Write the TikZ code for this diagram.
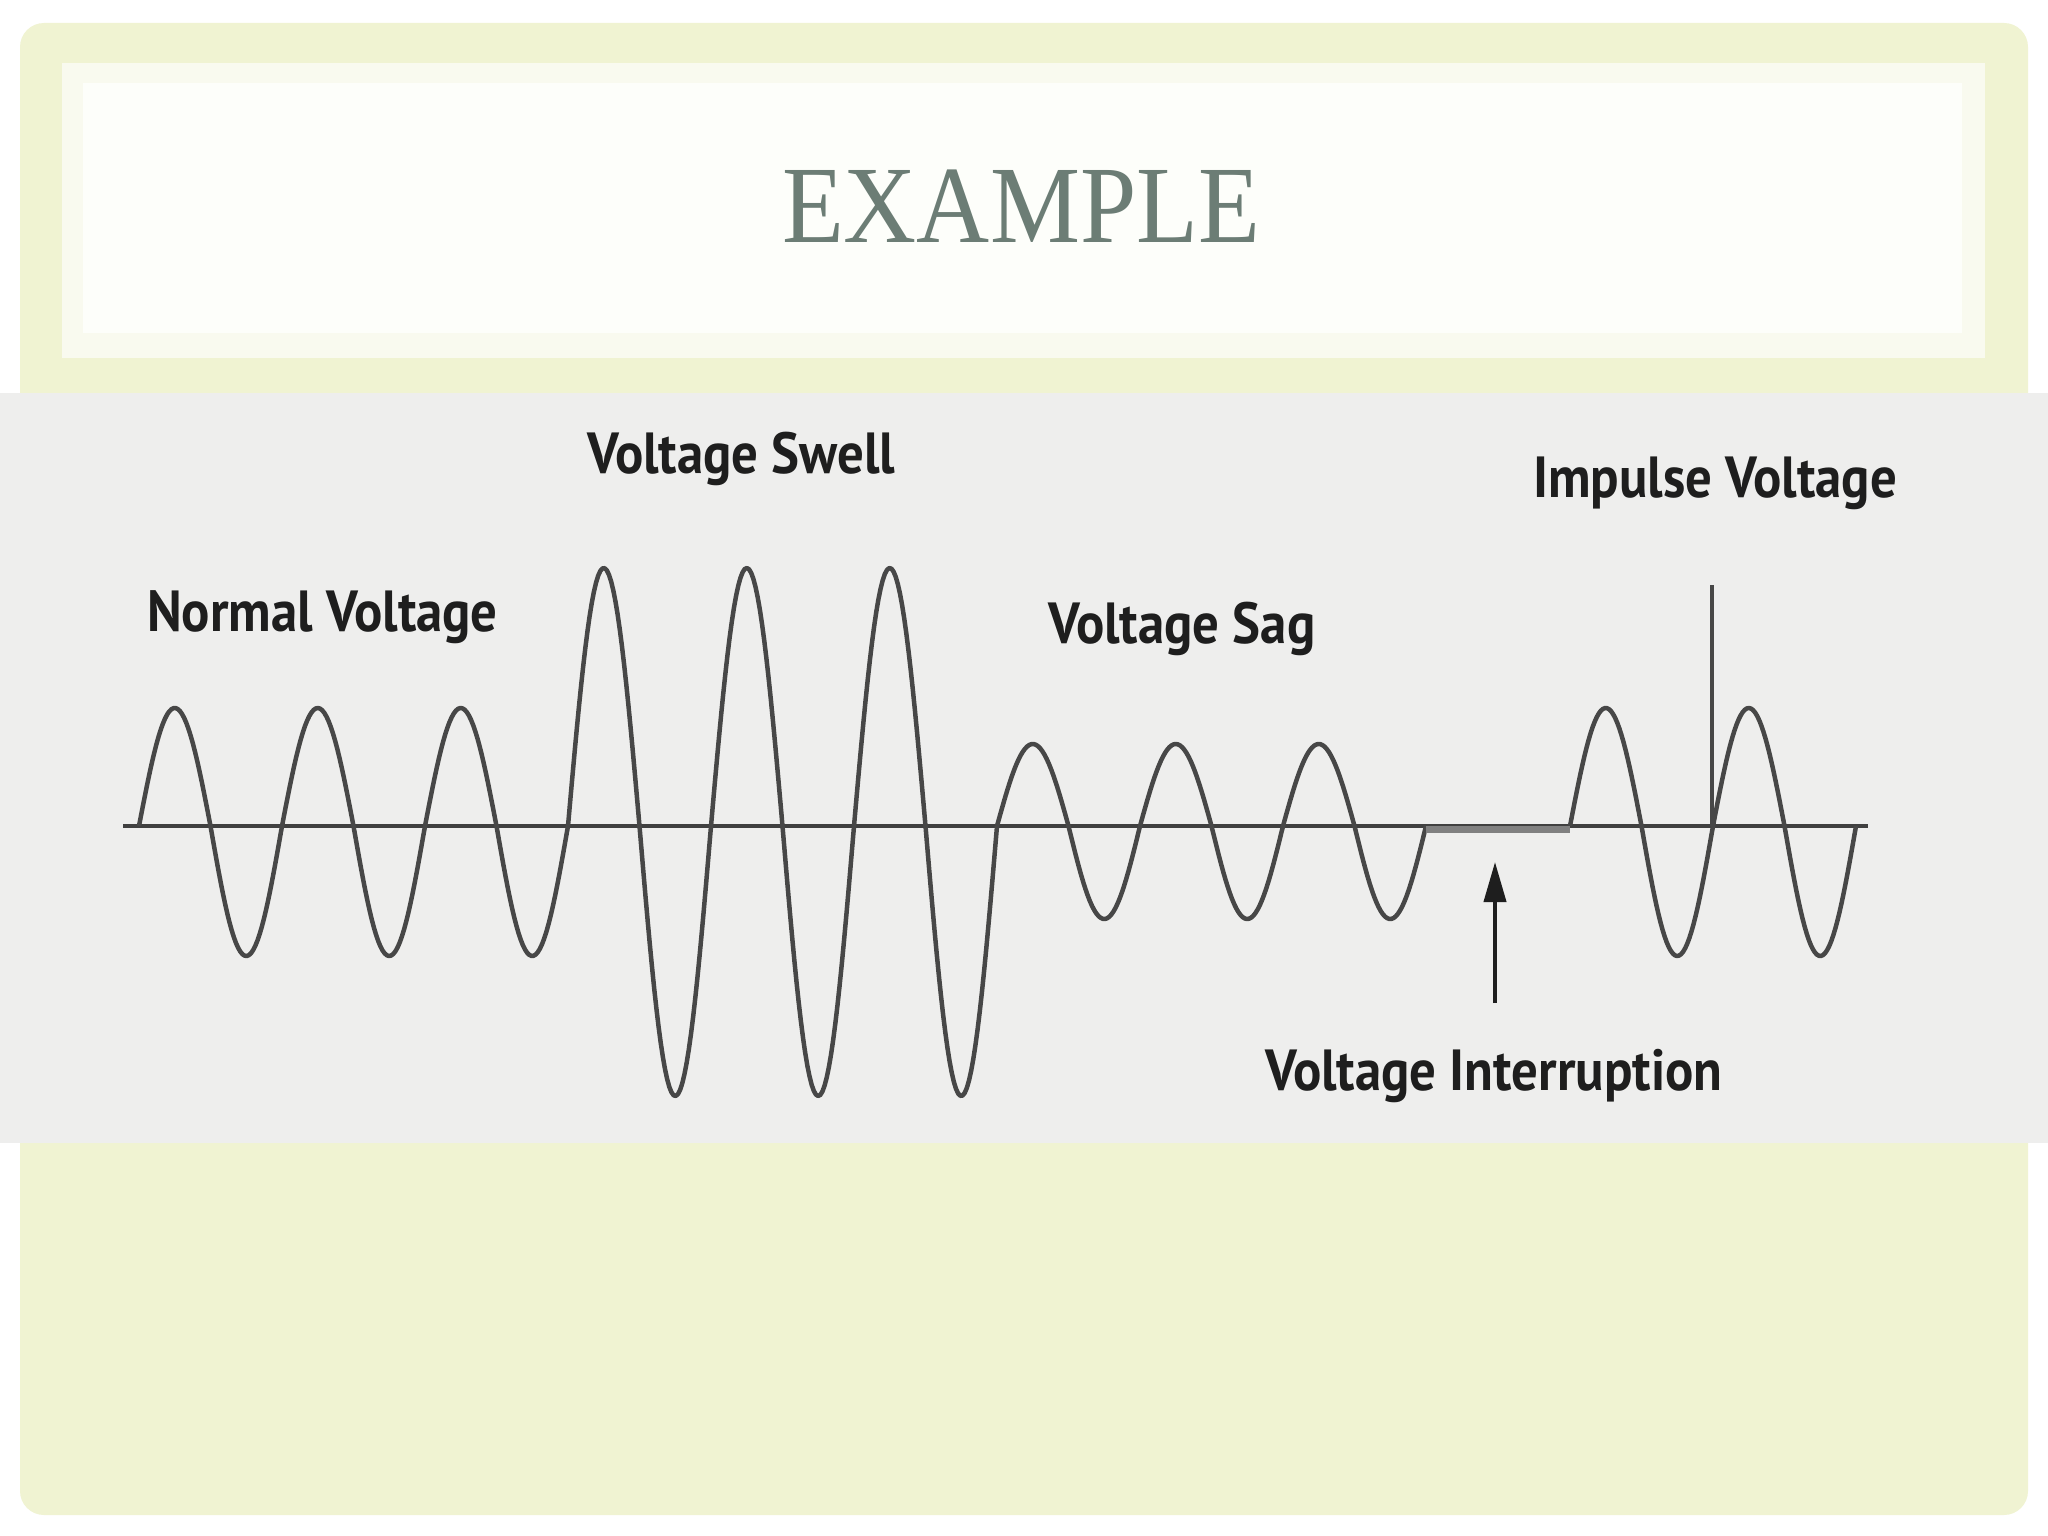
\documentclass[tikz,border=0pt]{standalone}
\usepackage{fontspec}
\usepackage{tikz}
\usetikzlibrary{arrows.meta}
\newfontfamily\titlefont[FakeStretch=0.92]{Liberation Serif}
\newfontfamily\labelfont[FakeStretch=0.91]{PT Sans}
\definecolor{framegreen}{HTML}{F0F3D2}
\definecolor{bandwhite}{HTML}{F9FAEF}
\definecolor{titlewhite}{HTML}{FDFEFA}
\definecolor{cloth}{HTML}{EEEEED}
\definecolor{titlegray}{HTML}{6C7D75}
\definecolor{wavegray}{HTML}{474747}
\definecolor{labelgray}{HTML}{1E1E1E}

\begin{document}
\begin{tikzpicture}[x=1pt,y=-1pt]

\tikzstyle{titletext}=[anchor=base, inner sep=0pt, text=titlegray,
font=\titlefont\fontsize{110}{110}\selectfont]
\tikzstyle{wavelabel}=[anchor=base west, inner sep=0pt, text=labelgray,
font=\labelfont\bfseries\fontsize{58}{58}\selectfont]
\tikzstyle{wave}=[draw=wavegray, line width=4.5pt, line join=round]
\tikzstyle{axisline}=[draw=wavegray!90!black, line width=4pt]

\useasboundingbox (0,0) rectangle (2048,1536);
\fill[white] (0,0) rectangle (2048,1536);
\fill[framegreen, rounded corners=24pt] (20,23) rectangle (2028,1515);
\fill[bandwhite] (62,63) rectangle (1985,358);
\fill[titlewhite] (83,83) rectangle (1962,333);
\fill[cloth] (0,393) rectangle (2048,1143);

\node[titletext] (title) at (1021,242) {EXAMPLE};

% axis
\coordinate (axisL) at (123,826);
\coordinate (axisR) at (1868,826);
\draw[axisline] (axisL) -- (axisR);

% normal, swell, sag
\foreach \xs/\au/\ad in {139/118/130, 568/258/270, 997/82/93}
  \draw[wave] plot[domain=0:429, samples=200]
    ({\xs+\x}, {826-(sin(\x/143*360)>0 ? \au : \ad)*sin(\x/143*360)});

% interruption
\coordinate (gapL) at (1426,829);
\coordinate (gapR) at (1570,829);
\draw[draw=gray, line width=7pt] (gapL) -- (gapR);

% after the gap
\draw[wave] plot[domain=0:286, samples=140]
  ({1570+\x}, {826-(sin(\x/143*360)>0 ? 118 : 130)*sin(\x/143*360)});

% impulse
\coordinate (spiketop) at (1712,585);
\coordinate (spikefoot) at (1712,826);
\draw[wave, line width=4pt] (spiketop) -- (spikefoot);

\node[wavelabel] (normal) at (147,631) {Normal Voltage};
\node[wavelabel] (swell) at (587,473) {Voltage Swell};
\node[wavelabel] (sag) at (1048,643) {Voltage Sag};
\node[wavelabel] (impulse) at (1533,497) {Impulse Voltage};
\node[wavelabel] (interrupt) at (1265,1090) {Voltage Interruption};

\coordinate (arrowfoot) at (1495,1003);
\coordinate (arrowtip) at (1495,862);
\draw[line width=4pt, labelgray, -{Triangle[length=40pt,width=22pt]}] (arrowfoot) -- (arrowtip);

\end{tikzpicture}
\end{document}
